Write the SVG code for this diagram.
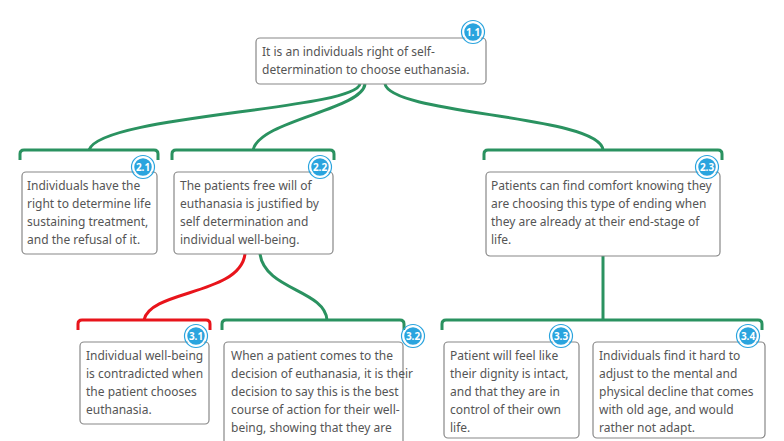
<svg xmlns="http://www.w3.org/2000/svg" width="784" height="441" viewBox="0 0 784 441">
<style>
.box{fill:#fff;stroke:#888;stroke-width:1.2}
.t{font-family:"Noto Sans",sans-serif;font-size:12px;fill:#555}
.g{fill:none;stroke:#2a9260;stroke-width:3}
.r{fill:none;stroke:#e8141b;stroke-width:3}
.bc{fill:#2aa4de;stroke:#fff;stroke-width:1.5}
.bo{fill:none;stroke:#2aa4de;stroke-width:1.2}
.bt{font-family:"Noto Sans",sans-serif;font-size:10px;font-weight:bold;fill:#fff;text-anchor:middle}
</style>
<rect width="784" height="441" fill="#fff"/>
<g id="connectors">
<path class="g" d="M360 84 C355 110 100 115 89 150"/>
<path class="g" d="M365 84 C362 110 260 120 253 150"/>
<path class="g" d="M385 84 C392 115 600 115 603 150"/>
<path class="g" d="M20 160 V154 Q20 150 24 150 H154 Q158 150 158 154 V160"/>
<path class="g" d="M172 160 V154 Q172 150 176 150 H330 Q334 150 334 154 V160"/>
<path class="g" d="M484 160 V154 Q484 150 488 150 H718 Q722 150 722 154 V160"/>
<path class="r" d="M245 254 C240 295 150 290 144 320"/>
<path class="g" d="M260 254 C265 290 325 290 327 320"/>
<path class="g" d="M603 256 V320"/>
<path class="r" d="M78 330 V324 Q78 320 82 320 H206 Q210 320 210 324 V330"/>
<path class="g" d="M222 330 V324 Q222 320 226 320 H400 Q404 320 404 324 V330"/>
<path class="g" d="M442 330 V324 Q442 320 446 320 H758 Q762 320 762 324 V330"/>
</g>
<g id="n11"><rect class="box" x="256" y="38" width="230" height="46" rx="4"/>
<text class="t" x="262" y="56">It is an individuals right of self-</text>
<text class="t" x="262" y="74">determination to choose euthanasia.</text>
<circle class="bc" cx="473" cy="32" r="9.5"/><circle class="bo" cx="473" cy="32" r="11.5"/><text class="bt" x="473" y="35.5">1.1</text></g>
<g id="n21"><rect class="box" x="22" y="172" width="135" height="82" rx="4"/>
<text class="t" x="27" y="190">Individuals have the</text>
<text class="t" x="27" y="208">right to determine life</text>
<text class="t" x="27" y="226">sustaining treatment,</text>
<text class="t" x="27" y="244">and the refusal of it.</text>
<circle class="bc" cx="143" cy="167" r="9.5"/><circle class="bo" cx="143" cy="167" r="11.5"/><text class="bt" x="143" y="170.5">2.1</text></g>
<g id="n22"><rect class="box" x="174" y="172" width="159" height="82" rx="4"/>
<text class="t" x="180" y="190">The patients free will of</text>
<text class="t" x="180" y="208">euthanasia is justified by</text>
<text class="t" x="180" y="226">self determination and</text>
<text class="t" x="180" y="244">individual well-being.</text>
<circle class="bc" cx="320" cy="167" r="9.5"/><circle class="bo" cx="320" cy="167" r="11.5"/><text class="bt" x="320" y="170.5">2.2</text></g>
<g id="n23"><rect class="box" x="486" y="172" width="234" height="84" rx="4"/>
<text class="t" x="491" y="190">Patients can find comfort knowing they</text>
<text class="t" x="491" y="208">are choosing this type of ending when</text>
<text class="t" x="491" y="226">they are already at their end-stage of</text>
<text class="t" x="491" y="244">life.</text>
<circle class="bc" cx="707" cy="167" r="9.5"/><circle class="bo" cx="707" cy="167" r="11.5"/><text class="bt" x="707" y="170.5">2.3</text></g>
<g id="n31"><rect class="box" x="80" y="342" width="129" height="82" rx="4"/>
<text class="t" x="86" y="360">Individual well-being</text>
<text class="t" x="86" y="378">is contradicted when</text>
<text class="t" x="86" y="396">the patient chooses</text>
<text class="t" x="86" y="414">euthanasia.</text>
<circle class="bc" cx="196" cy="336" r="9.5"/><circle class="bo" cx="196" cy="336" r="11.5"/><text class="bt" x="196" y="339.5">3.1</text></g>
<g id="n32"><rect class="box" x="224" y="342" width="179" height="110" rx="4"/>
<text class="t" x="231" y="360">When a patient comes to the</text>
<text class="t" x="231" y="378">decision of euthanasia, it is their</text>
<text class="t" x="231" y="396">decision to say this is the best</text>
<text class="t" x="231" y="414">course of action for their well-</text>
<text class="t" x="231" y="432">being, showing that they are</text>
<circle class="bc" cx="413" cy="336" r="9.5"/><circle class="bo" cx="413" cy="336" r="11.5"/><text class="bt" x="413" y="339.5">3.2</text></g>
<g id="n33"><rect class="box" x="444" y="342" width="135" height="96" rx="4"/>
<text class="t" x="450" y="360">Patient will feel like</text>
<text class="t" x="450" y="378">their dignity is intact,</text>
<text class="t" x="450" y="396">and that they are in</text>
<text class="t" x="450" y="414">control of their own</text>
<text class="t" x="450" y="432">life.</text>
<circle class="bc" cx="561" cy="336" r="9.5"/><circle class="bo" cx="561" cy="336" r="11.5"/><text class="bt" x="561" y="339.5">3.3</text></g>
<g id="n34"><rect class="box" x="593" y="342" width="172" height="96" rx="4"/>
<text class="t" x="599" y="360">Individuals find it hard to</text>
<text class="t" x="599" y="378">adjust to the mental and</text>
<text class="t" x="599" y="396">physical decline that comes</text>
<text class="t" x="599" y="414">with old age, and would</text>
<text class="t" x="599" y="432">rather not adapt.</text>
<circle class="bc" cx="748" cy="336" r="9.5"/><circle class="bo" cx="748" cy="336" r="11.5"/><text class="bt" x="748" y="339.5">3.4</text></g>
</svg>
